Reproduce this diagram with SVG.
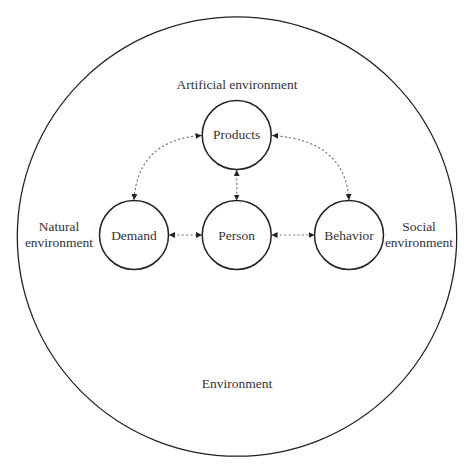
<svg xmlns="http://www.w3.org/2000/svg" width="474" height="473" viewBox="0 0 474 473">
<defs>
<style>
.node{fill:#fff;stroke:#222;stroke-width:1.5}
.outer{fill:#fff;stroke:#222;stroke-width:1.3}
text{font-family:"Liberation Serif","Times New Roman",serif;font-size:13.5px;fill:#333;text-anchor:middle}
.con{fill:none;stroke:#777;stroke-width:1.2;stroke-dasharray:1.2 3.2;stroke-linecap:round}
</style>
<marker id="arr" viewBox="0 0 6 6" refX="6" refY="3" markerWidth="6" markerHeight="6" markerUnits="userSpaceOnUse" orient="auto-start-reverse">
<path d="M0,0 L6,3 L0,6 Z" fill="#222"/>
</marker>
</defs>
<rect width="474" height="473" fill="#fff"/>
<g id="environment">
<circle class="outer" cx="237" cy="236.5" r="219.7"/>
<text x="237" y="388">Environment</text>
<text x="237" y="89">Artificial environment</text>
<text x="59" y="231">Natural</text>
<text x="59" y="247">environment</text>
<text x="419" y="231">Social</text>
<text x="419" y="247">environment</text>
</g>
<g id="connectors">
<path class="con" d="M201.5,135.5 Q138,140 134,200" marker-start="url(#arr)" marker-end="url(#arr)"/>
<path class="con" d="M272,135.5 Q345,140 349,200" marker-start="url(#arr)" marker-end="url(#arr)"/>
<path class="con" d="M236.7,170 L236.7,200.5" marker-start="url(#arr)" marker-end="url(#arr)"/>
<path class="con" d="M169,235 L202,235" marker-start="url(#arr)" marker-end="url(#arr)"/>
<path class="con" d="M271.5,235 L314.5,235" marker-start="url(#arr)" marker-end="url(#arr)"/>
</g>
<g id="products">
<circle class="node" cx="236.7" cy="135" r="34.5"/>
<text x="236.7" y="139">Products</text>
</g>
<g id="demand">
<circle class="node" cx="134" cy="235" r="34.5"/>
<text x="134" y="239.5">Demand</text>
</g>
<g id="person">
<circle class="node" cx="236.7" cy="235" r="34.5"/>
<text x="236.7" y="239.5">Person</text>
</g>
<g id="behavior">
<circle class="node" cx="349" cy="235" r="34.5"/>
<text x="349" y="239.5">Behavior</text>
</g>
</svg>
